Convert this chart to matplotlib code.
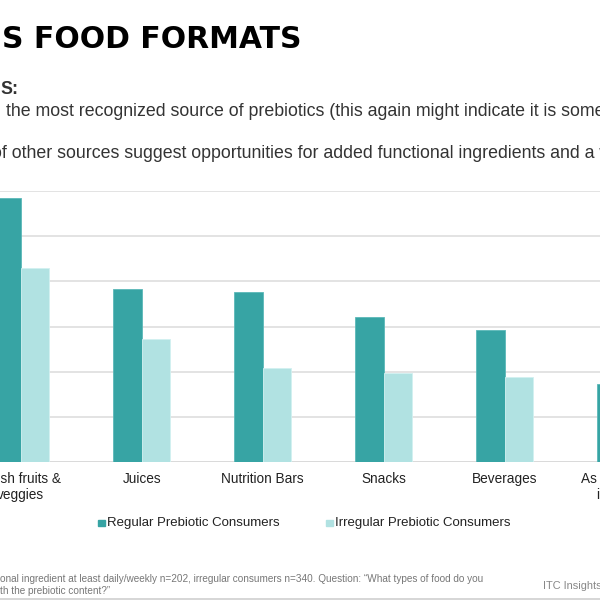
import matplotlib
matplotlib.use("Agg")
import matplotlib.pyplot as plt
from matplotlib.patches import Rectangle
from matplotlib.lines import Line2D
import numpy as np

categories = ["Fresh fruits &\nveggies", "Juices", "Nutrition Bars", "Snacks", "Beverages",
              "As a functional\ningredient"]
regular = [58.3, 38.2, 37.6, 32.2, 29.2, 17.3]
irregular = [42.9, 27.2, 20.8, 19.7, 18.8, 13.0]
series_names = ["Regular Prebiotic Consumers", "Irregular Prebiotic Consumers"]
yticks = [0, 10, 20, 30, 40, 50, 60]

C_REG = "#37A4A4"
C_IRR = "#B1E2E2"
FONT = "Liberation Sans"

W, H = 600, 600
fig = plt.figure(figsize=(6, 6), dpi=100)

def fx(px):
    return px / W

def fy(py):
    return 1 - py / H

base_px, top_px = 462.3, 190.7
ax = fig.add_axes([0, fy(base_px), 1, (base_px - top_px) / H])
x = np.arange(len(categories))
bw = 0.237
ax.bar(x - bw / 2, regular, bw, color=C_REG, edgecolor="#5BB8B8", linewidth=0.6, zorder=3)
ax.bar(x + bw / 2, irregular, bw, color=C_IRR, edgecolor="#D2F0F0", linewidth=0.6, zorder=3)
ax.set_yticks(yticks)
ax.set_xticks([])
ax.set_xlim(-20.7 / 121, (600 - 20.7) / 121)
ax.set_ylim(0, 60)
ax.yaxis.grid(True, color="#E3E3E3", linewidth=1.4, zorder=0)
ax.set_axisbelow(True)
for s in ax.spines.values():
    s.set_visible(False)
ax.tick_params(axis="y", left=False, labelleft=False)
ax.axhline(0, color="#DADADA", linewidth=1.4, zorder=1)

# Category labels (drawn as annotations so the partly visible last one shows)
for xi, lab in zip(x, categories):
    ax.annotate(lab, xy=(xi, 0), xycoords=("data", "axes fraction"),
                xytext=(0, -7.0), textcoords="offset points", ha="center", va="top",
                fontsize=9.8, family=FONT, color="#222222", linespacing=1.22,
                annotation_clip=False)

# Title & subtitle (cropped slide text)
fig.text(fx(2.5), fy(40), "S FOOD FORMATS", fontsize=21.5, family="DejaVu Sans",
         fontweight="heavy", color="black", ha="left", va="center")
fig.text(fx(0), fy(90), "S:", fontsize=12.8, family=FONT, fontweight="bold",
         color="#333333", ha="left", va="center")
fig.text(fx(5.7), fy(111.7),
         "the most recognized source of prebiotics (this again might indicate it is somewhat",
         fontsize=12.8, family=FONT, color="#333333", ha="left", va="center")
fig.text(fx(-8), fy(153),
         "of other sources suggest opportunities for added functional ingredients and a wider",
         fontsize=12.8, family=FONT, color="#333333", ha="left", va="center")

# Legend
for px, name, col in [(98, series_names[0], C_REG), (326, series_names[1], C_IRR)]:
    fig.patches.append(Rectangle((fx(px), fy(526.3)), 6.5 / W, 6.5 / H, transform=fig.transFigure,
                                 color=col, figure=fig))
    fig.text(fx(px + 9), fy(523), name, fontsize=9.5, family=FONT, color="#222222",
             ha="left", va="center")

# Footnote
fig.text(fx(0), fy(579.5),
         "onal ingredient at least daily/weekly n=202, irregular consumers n=340. Question: \u201cWhat types of food do you",
         fontsize=7.2, family=FONT, color="#777777", ha="left", va="center")
fig.text(fx(0), fy(590.5), "th the prebiotic content?\u201d",
         fontsize=7.2, family=FONT, color="#777777", ha="left", va="center")
fig.text(fx(542.7), fy(586), "ITC Insights", fontsize=7.9, family=FONT, color="#888888",
         ha="left", va="center")

fig.lines.append(Line2D([0, 1], [fy(598.5), fy(598.5)], transform=fig.transFigure,
                        color="#D0D0D0", linewidth=1.2, figure=fig))

fig.savefig("out.png", dpi=100)
